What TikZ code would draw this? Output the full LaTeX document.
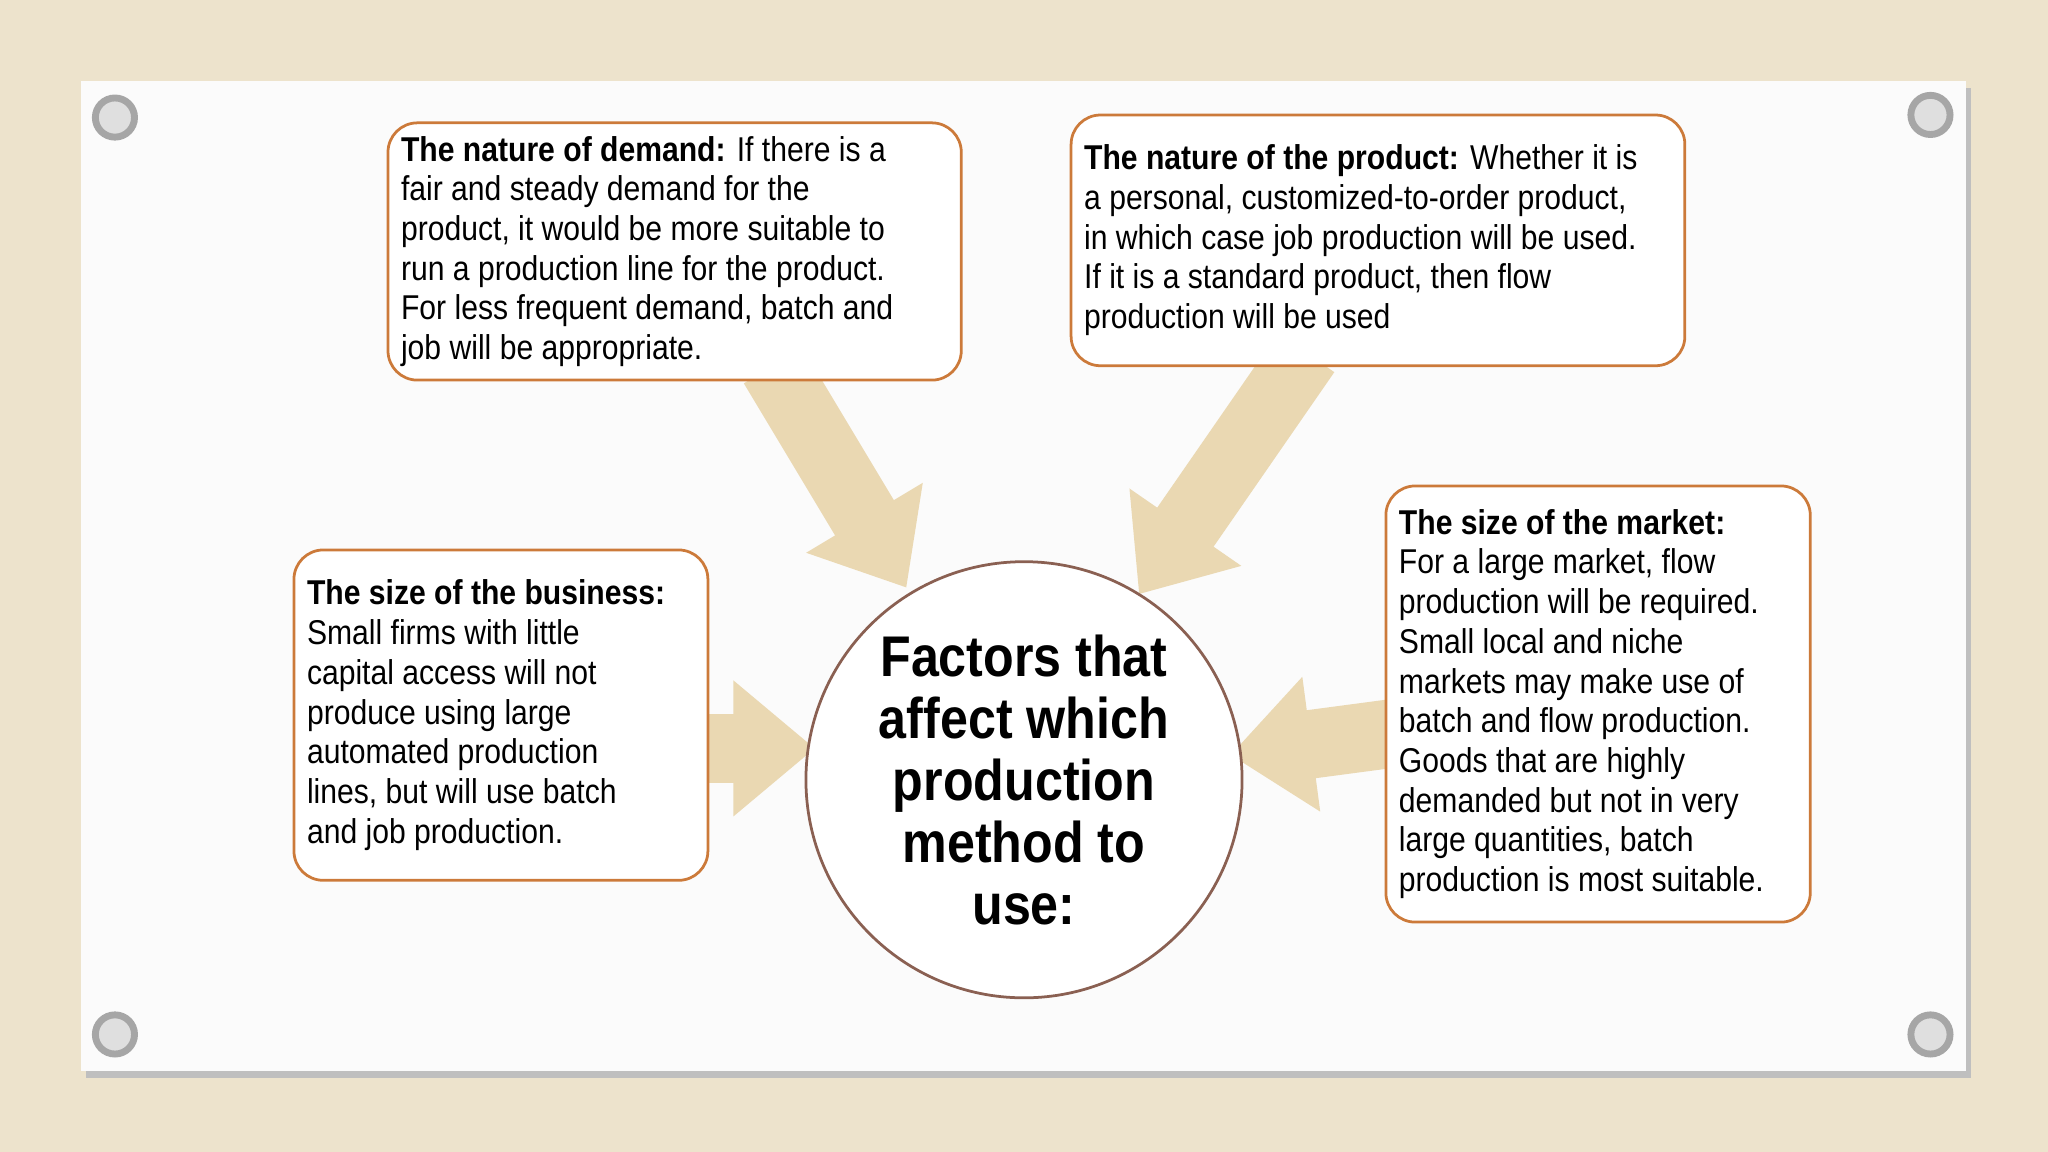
\documentclass[tikz,border=0pt]{standalone}
\usepackage{fontspec}
\setmainfont[FakeStretch=0.875]{Liberation Sans}
\usetikzlibrary{arrows.meta}
\definecolor{bg}{HTML}{EDE3CC}
\definecolor{boxline}{HTML}{CC7A3A}
\definecolor{circline}{HTML}{8A6052}
\definecolor{arr}{HTML}{EAD8B2}
\tikzset{
 box/.style={draw=boxline,line width=1.2pt,rounded corners=0.45cm,fill=white,anchor=north west,align=flush left,inner sep=0.2cm,font=\fontsize{15}{17.3}\selectfont},
 bigarrow/.style={draw=arr,line width=1.05cm,-{Triangle[length=1.25cm 0 0,width=2.0cm 0 0]}},
 grommet/.style={circle,draw=gray!70,line width=3pt,fill=gray!25,minimum size=0.6cm,inner sep=0pt},
}
\begin{document}
\begin{tikzpicture}[x=0.02cm,y=-0.02cm]
\useasboundingbox (0,0) rectangle (1568,882);
\fill[bg] (0,0) rectangle (1568,882);
\fill[black!25] (66,67) rectangle (1509,825);
\fill[white!97!gray] (62,62) rectangle (1505,820);
\foreach \p/\n in {{(88,90)}/g1,{(1478,88)}/g2,{(88,792)}/g3,{(1478,792)}/g4}
  \node[grommet] (\n) at \p {};
\coordinate (a1s) at (592,280); \coordinate (a1e) at (694,450);
\coordinate (a2s) at (1000,270); \coordinate (a2e) at (872,455);
\coordinate (a3s) at (530,573); \coordinate (a3e) at (624,573);
\coordinate (a4s) at (1070,561); \coordinate (a4e) at (942,578);
\draw[bigarrow] (a1s) -- (a1e);
\draw[bigarrow] (a2s) -- (a2e);
\draw[bigarrow] (a3s) -- (a3e);
\draw[bigarrow] (a4s) -- (a4e);
\node[box,text width=8.38cm,minimum height=3.94cm] (demand) at (296,93)
 {\textbf{The nature of demand:} If there is a\\fair and steady demand for the\\product, it would be more suitable to\\run a production line for the product.\\For less frequent demand, batch and\\job will be appropriate.};
\node[box,text width=9.0cm,minimum height=3.84cm] (product) at (819,87)
 {\textbf{The nature of the product:} Whether it is\\a personal, customized-to-order product,\\in which case job production will be used.\\If it is a standard product, then flow\\production will be used};
\node[box,text width=5.94cm,minimum height=5.06cm] (business) at (224,420)
 {\textbf{The size of the business:}\\Small firms with little\\capital access will not\\produce using large\\automated production\\lines, but will use batch\\and job production.};
\node[box,text width=6.1cm,minimum height=6.68cm] (market) at (1060,371)
 {\textbf{The size of the market:}\\For a large market, flow\\production will be required.\\Small local and niche\\markets may make use of\\batch and flow production.\\Goods that are highly\\demanded but not in very\\large quantities, batch\\production is most suitable.};
\node[circle,draw=circline,line width=1.2pt,fill=white,minimum size=6.68cm,align=center,font=\bfseries\fontsize{25}{27}\selectfont] (c) at (784,597)
 {Factors that\\affect which\\production\\method to\\use:};
\end{tikzpicture}
\end{document}
